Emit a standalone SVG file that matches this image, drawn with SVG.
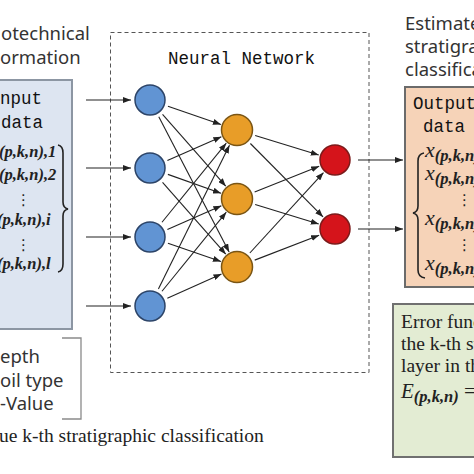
<svg xmlns="http://www.w3.org/2000/svg" width="474" height="474" viewBox="0 0 474 474">
<style>
.sans{font-family:"Noto Sans","Liberation Sans",sans-serif;font-size:18.5px;fill:#333}
.mono{font-family:"Liberation Mono","DejaVu Sans Mono",monospace;font-size:17.5px;fill:#111}
.serif{font-family:"Liberation Serif","Times New Roman",serif;fill:#222}
.sub{font-family:"Liberation Serif","Times New Roman",serif;font-style:italic;font-weight:bold;font-size:16.5px;fill:#222}
.dots{font-family:"DejaVu Sans",sans-serif;font-size:15px;fill:#222}
.blue{fill:#6194d3;stroke:#2c4468;stroke-width:1.5}
.orange{fill:#e89d28;stroke:#7a5514;stroke-width:1.5}
.red{fill:#d5141b;stroke:#7c1a1a;stroke-width:1.5}
.edge{stroke:#222;stroke-width:1.1;fill:none;marker-end:url(#ah)}
</style>
<defs>
<marker id="ah" markerUnits="userSpaceOnUse" markerWidth="8" markerHeight="6" refX="8" refY="3" orient="auto">
<path d="M0,0 L8,3 L0,6 z" fill="#222"/>
</marker>
</defs>
<rect width="474" height="474" fill="#ffffff"/>

<g id="geotech-label">
<text class="sans" x="1" y="40">otechnical</text>
<text class="sans" x="0" y="64">ormation</text>
</g>

<g id="input-data">
<rect x="-5" y="80" width="77" height="249" fill="#dde5f1" stroke="#8c96a3" stroke-width="2"/>
<text class="mono" x="0" y="104">nput</text>
<text class="mono" x="1" y="128">data</text>
<text class="sub" x="-1" y="157">(p,k,n),1</text>
<text class="sub" x="-1" y="180">(p,k,n),2</text>
<text class="dots" x="16" y="205">⋮</text>
<text class="sub" x="-3" y="225">(p,k,n),i</text>
<text class="dots" x="16" y="250">⋮</text>
<text class="sub" x="-3" y="269">(p,k,n),l</text>
<path d="M58,145 Q63,146 63,153 L63,202 Q63,208 68,209 Q63,210 63,216 L63,264 Q63,271 58,272" fill="none" stroke="#222" stroke-width="1.6"/>
</g>

<g id="input-features">
<text class="sans" x="0" y="363">epth</text>
<text class="sans" x="0" y="387">oil type</text>
<text class="sans" x="0" y="410">-Value</text>
<path d="M62,338 L81,338 L81,419 L62,419" fill="none" stroke="#8a8a8a" stroke-width="1.3"/>
</g>

<g id="neural-network">
<rect x="110.5" y="32.5" width="258.5" height="340" fill="none" stroke="#555" stroke-width="1" stroke-dasharray="4 3"/>
<text class="mono" x="168" y="64" font-size="16.5">Neural Network</text>
</g>

<g id="input-layer">
<circle id="in1" class="blue" cx="150" cy="100" r="15"/>
<circle id="in2" class="blue" cx="150" cy="168" r="15"/>
<circle id="in3" class="blue" cx="150" cy="237" r="15"/>
<circle id="in4" class="blue" cx="150" cy="306" r="15"/>
</g>
<g id="hidden-layer">
<circle id="h1" class="orange" cx="237" cy="130" r="15.5"/>
<circle id="h2" class="orange" cx="237" cy="199" r="15.5"/>
<circle id="h3" class="orange" cx="237" cy="267" r="15.5"/>
</g>
<g id="output-layer">
<circle id="o1" class="red" cx="335" cy="160" r="15"/>
<circle id="o2" class="red" cx="335" cy="229" r="15"/>
</g>

<g id="connectors">
<line class="edge" x1="86" y1="100" x2="131" y2="100"/>
<line class="edge" x1="86" y1="168" x2="131" y2="168"/>
<line class="edge" x1="86" y1="237" x2="131" y2="237"/>
<line class="edge" x1="86" y1="306" x2="131" y2="306"/>

<line class="edge" x1="167.96" y1="106.19" x2="220.93" y2="124.46"/>
<line class="edge" x1="162.54" y1="114.27" x2="225.78" y2="186.23"/>
<line class="edge" x1="158.78" y1="116.85" x2="229.15" y2="251.92"/>
<line class="edge" x1="167.41" y1="160.39" x2="221.42" y2="136.80"/>
<line class="edge" x1="167.90" y1="174.38" x2="220.99" y2="193.29"/>
<line class="edge" x1="162.54" y1="182.27" x2="225.78" y2="254.23"/>
<line class="edge" x1="161.99" y1="222.26" x2="226.28" y2="143.19"/>
<line class="edge" x1="167.41" y1="229.39" x2="221.42" y2="205.80"/>
<line class="edge" x1="167.96" y1="243.19" x2="220.93" y2="261.46"/>
<line class="edge" x1="158.42" y1="288.97" x2="229.47" y2="145.24"/>
<line class="edge" x1="161.99" y1="291.26" x2="226.28" y2="212.19"/>
<line class="edge" x1="167.34" y1="298.23" x2="221.49" y2="273.95"/>

<line class="edge" x1="255.17" y1="135.56" x2="318.74" y2="155.02"/>
<line class="edge" x1="250.37" y1="143.50" x2="323.04" y2="216.92"/>
<line class="edge" x1="254.65" y1="191.97" x2="319.20" y2="166.29"/>
<line class="edge" x1="255.17" y1="204.56" x2="318.74" y2="224.02"/>
<line class="edge" x1="249.83" y1="253.00" x2="323.52" y2="172.54"/>
<line class="edge" x1="254.71" y1="260.13" x2="319.15" y2="235.15"/>

<line class="edge" x1="358" y1="160" x2="403" y2="160"/>
<line class="edge" x1="358" y1="229" x2="403" y2="229"/>
</g>

<g id="estimated-label">
<text class="sans" x="405" y="30">Estimated</text>
<text class="sans" x="405" y="53">stratigraphic</text>
<text class="sans" x="405" y="76">classification</text>
</g>

<g id="output-data">
<rect x="405" y="87" width="80" height="200" fill="#f6d3b8" stroke="#6b6b6b" stroke-width="2"/>
<text class="mono" x="413" y="109">Output</text>
<text class="mono" x="423" y="132">data</text>
<path d="M424,153 Q418,154 418,161 L418,206 Q418,212 413,213 Q418,214 418,220 L418,270 Q418,277 425,278" fill="none" stroke="#222" stroke-width="1.6"/>
<text class="serif" x="425" y="157" font-size="22" font-style="italic">x<tspan class="sub" font-size="15.5" dy="4">(p,k,n),1</tspan></text>
<text class="serif" x="425" y="180" font-size="22" font-style="italic">x<tspan class="sub" font-size="15.5" dy="4">(p,k,n),2</tspan></text>
<text class="dots" x="457" y="205">⋮</text>
<text class="serif" x="425" y="225" font-size="22" font-style="italic">x<tspan class="sub" font-size="15.5" dy="4">(p,k,n),i</tspan></text>
<text class="dots" x="457" y="250">⋮</text>
<text class="serif" x="425" y="270" font-size="22" font-style="italic">x<tspan class="sub" font-size="15.5" dy="4">(p,k,n),l</tspan></text>
</g>

<g id="error-function">
<rect x="393" y="304" width="90" height="153" fill="#e3ecd3" stroke="#707070" stroke-width="2"/>
<text class="serif" x="401" y="328" font-size="19.5">Error function</text>
<text class="serif" x="401" y="350" font-size="19.5">the k-th stratum</text>
<text class="serif" x="401" y="372" font-size="19.5">layer in the</text>
<text class="serif" x="401" y="398" font-size="21" font-style="italic">E<tspan class="sub" font-size="15" dy="4">(p,k,n)</tspan><tspan font-style="normal" dy="-4"> =</tspan></text>
</g>

<g id="caption">
<text class="serif" x="-1" y="442" font-size="19.5">ue k-th stratigraphic classification</text>
</g>
</svg>
